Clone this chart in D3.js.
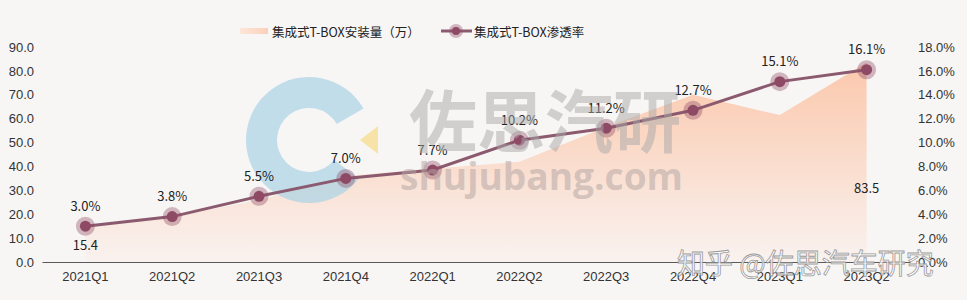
<!DOCTYPE html>
<html>
<head>
<meta charset="utf-8">
<script src="https://cdn.jsdelivr.net/npm/d3@7"></script>
<style>
  body { margin: 0; background: #f8f6f5; }
  svg { display: block; font-family: "Noto Sans CJK SC", "Microsoft YaHei", sans-serif; }
</style>
</head>
<body>
<div id="chart"></div>
<script>
var quarters = ["2021Q1", "2021Q2", "2021Q3", "2021Q4", "2022Q1", "2022Q2", "2022Q3", "2022Q4", "2023Q1", "2023Q2"];
var installs = [15.4, 19, 26, 36, 39, 42, 56.5, 70, 61.5, 83.5];
var rates = [3.0, 3.8, 5.5, 7.0, 7.7, 10.2, 11.2, 12.7, 15.1, 16.1];
var leftTicks = [0, 10, 20, 30, 40, 50, 60, 70, 80, 90];
var rightTicks = [0, 2, 4, 6, 8, 10, 12, 14, 16, 18];
var seriesNames = ["集成式T-BOX安装量（万）", "集成式T-BOX渗透率"];

var width = 967, height = 300;
var lineColor = "#8b5a6e", dotColor = "#8e4a64";

var svg = d3.select("#chart").append("svg")
    .attr("width", width)
    .attr("height", height);

svg.append("rect").attr("width", width).attr("height", height).attr("fill", "#f8f6f5");

var x = d3.scaleBand().domain(quarters).range([42, 910]);
var yL = d3.scaleLinear().domain([0, 90]).range([262, 47]);
var yR = d3.scaleLinear().domain([0, 18]).range([262, 47]);
var cx = function (d, i) { return x(quarters[i]) + x.bandwidth() / 2; };

var grad = svg.append("defs").append("linearGradient")
    .attr("id", "areaFill")
    .attr("gradientUnits", "userSpaceOnUse")
    .attr("x1", 0).attr("y1", yL(85)).attr("x2", 0).attr("y2", yL(0));
grad.append("stop").attr("offset", "0%").attr("stop-color", "#fbc7ab");
grad.append("stop").attr("offset", "100%").attr("stop-color", "#f9f2ef");

// area series
var area = d3.area()
    .x(cx)
    .y0(yL(0))
    .y1(function (d) { return yL(d); });

svg.append("path")
    .datum(installs)
    .attr("fill", "url(#areaFill)")
    .attr("d", area);

// logo watermark (under the line)
svg.append("path")
    .attr("transform", "translate(309,140)")
    .attr("d", d3.arc()({ innerRadius: 32, outerRadius: 63, startAngle: 128 * Math.PI / 180, endAngle: 420 * Math.PI / 180 }))
    .attr("fill", "#a9d3e6")
    .attr("fill-opacity", 0.7);
svg.append("path")
    .attr("d", "M360,140 L378,126 L378,154 Z")
    .attr("fill", "#f6dd94")
    .attr("fill-opacity", 0.8);

// axes
svg.append("g")
    .attr("transform", "translate(0," + yL(0) + ")")
    .call(d3.axisBottom(x).tickSize(0).tickPadding(10))
    .call(function (g) {
        g.select(".domain").attr("stroke", "#595959");
        g.selectAll("text").attr("font-size", 13).attr("fill", "#333").attr("font-family", null);
    });

svg.append("g")
    .attr("transform", "translate(34,0)")
    .call(d3.axisLeft(yL).tickValues(leftTicks).tickFormat(d3.format(".1f")).tickSize(0).tickPadding(0))
    .call(function (g) {
        g.select(".domain").remove();
        g.selectAll("text").attr("font-size", 13).attr("fill", "#333").attr("font-family", null);
    });

svg.append("g")
    .attr("transform", "translate(918,0)")
    .call(d3.axisRight(yR).tickValues(rightTicks).tickFormat(function (d) { return d3.format(".1f")(d) + "%"; }).tickSize(0).tickPadding(0))
    .call(function (g) {
        g.select(".domain").remove();
        g.selectAll("text").attr("font-size", 13).attr("fill", "#333").attr("font-family", null);
    });

// line series
var line = d3.line()
    .x(cx)
    .y(function (d) { return yR(d); });

svg.append("path")
    .datum(rates)
    .attr("fill", "none")
    .attr("stroke", lineColor)
    .attr("stroke-width", 3)
    .attr("d", line);

svg.selectAll(".halo")
    .data(rates).enter().append("circle")
    .attr("cx", cx)
    .attr("cy", function (d) { return yR(d); })
    .attr("r", 9.5)
    .attr("fill", dotColor)
    .attr("fill-opacity", 0.38);

svg.selectAll(".dot")
    .data(rates).enter().append("circle")
    .attr("cx", cx)
    .attr("cy", function (d) { return yR(d); })
    .attr("r", 5.5)
    .attr("fill", dotColor);

svg.selectAll(".rate-label")
    .data(rates).enter().append("text")
    .attr("x", cx)
    .attr("y", function (d) { return yR(d) - 21; })
    .attr("text-anchor", "middle")
    .attr("dominant-baseline", "central")
    .attr("font-size", 13)
    .attr("fill", "#222")
    .text(function (d) { return d3.format(".1f")(d) + "%"; });

// area labels (first and last only)
var last = installs.length - 1;
svg.append("text")
    .attr("x", cx(installs[0], 0))
    .attr("y", yL(installs[0]) + 19)
    .attr("text-anchor", "middle")
    .attr("dominant-baseline", "central")
    .attr("font-size", 13).attr("fill", "#222")
    .text(d3.format(".1f")(installs[0]));
svg.append("text")
    .attr("x", cx(installs[last], last))
    .attr("y", yL(installs[last]) + 125)
    .attr("text-anchor", "middle")
    .attr("dominant-baseline", "central")
    .attr("font-size", 13).attr("fill", "#222")
    .text(d3.format(".1f")(installs[last]));

// legend
var legend = svg.append("g").attr("font-size", 12.5).attr("fill", "#222");
var lg = legend.append("defs").append("linearGradient").attr("id", "legFill");
lg.append("stop").attr("offset", "0%").attr("stop-color", "#fde6da");
lg.append("stop").attr("offset", "100%").attr("stop-color", "#fbd0bb");
legend.append("rect").attr("x", 240).attr("y", 28).attr("width", 28).attr("height", 6).attr("fill", "url(#legFill)");
legend.append("text").attr("x", 272).attr("y", 31).attr("dominant-baseline", "central").text(seriesNames[0]);
legend.append("line").attr("x1", 441).attr("x2", 472).attr("y1", 31).attr("y2", 31)
    .attr("stroke", lineColor).attr("stroke-width", 3);
legend.append("circle").attr("cx", 456).attr("cy", 31).attr("r", 7).attr("fill", dotColor).attr("fill-opacity", 0.38);
legend.append("circle").attr("cx", 456).attr("cy", 31).attr("r", 4).attr("fill", dotColor);
legend.append("text").attr("x", 474).attr("y", 31).attr("dominant-baseline", "central").text(seriesNames[1]);

// text watermarks (on top)
var wm = svg.append("g").attr("pointer-events", "none");
wm.append("text")
    .attr("x", 545).attr("y", 117)
    .attr("text-anchor", "middle").attr("dominant-baseline", "central")
    .attr("font-size", 68).attr("font-weight", "bold")
    .attr("fill", "#a8a8a8").attr("fill-opacity", 0.5)
    .text("佐思汽研");
wm.append("text")
    .attr("x", 400).attr("y", 190)
    .attr("textLength", 283).attr("lengthAdjust", "spacingAndGlyphs")
    .attr("font-size", 38).attr("font-weight", "bold")
    .attr("font-family", "'Open Sans', sans-serif")
    .attr("fill", "#b5a7a4").attr("fill-opacity", 0.55)
    .text("shujubang.com");
wm.append("text")
    .attr("x", 677).attr("y", 262)
    .attr("dominant-baseline", "central")
    .attr("font-size", 28)
    .attr("fill", "#ffffff").attr("fill-opacity", 0.8)
    .attr("stroke", "#9a9a9a").attr("stroke-width", 0.8)
    .text("知乎 @佐思汽车研究");
</script>
</body>
</html>
